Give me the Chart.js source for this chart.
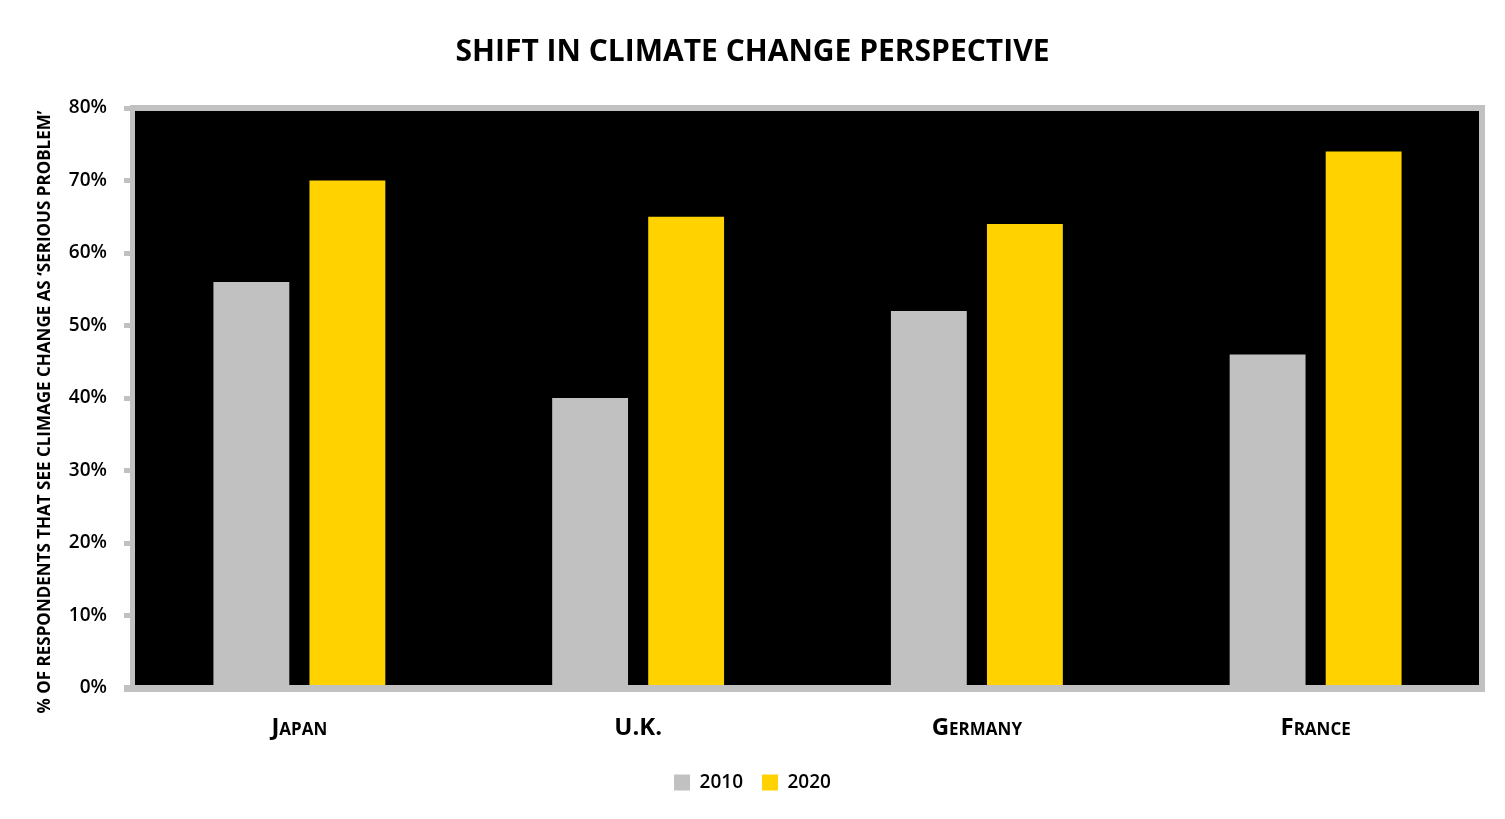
<!DOCTYPE html>
<html>
<head>
<meta charset="utf-8">
<script src="https://cdn.jsdelivr.net/npm/chart.js@4"></script>
<style>
  html, body { margin: 0; padding: 0; background: #fff; }
  #wrap { width: 1505px; height: 819px; }
</style>
</head>
<body>
<div id="wrap"><canvas id="climateChart"></canvas></div>
<script>
// data
const countries = ['Japan', 'U.K.', 'Germany', 'France'];
const values2010 = [56, 40, 52, 46];
const values2020 = [70, 65, 64, 74];
const yTicks = [0, 10, 20, 30, 40, 50, 60, 70, 80];

const GRAY = '#c1c1c1';
const YELLOW = '#ffd200';
const FONT = "'Open Sans', sans-serif";

// black plot area with a gray frame, like the original
const framePlugin = {
    id: 'frame',
    beforeDatasetsDraw(chart) {
        const { ctx, chartArea: a } = chart;
        ctx.save();
        ctx.fillStyle = GRAY;
        ctx.fillRect(a.left, a.top - 3, a.right - a.left, a.bottom - a.top + 7);
        ctx.fillStyle = '#000';
        ctx.fillRect(a.left + 5, a.top + 3, a.right - a.left - 11, a.bottom - a.top - 6);
        ctx.restore();
    },
    afterDatasetsDraw(chart) {
        const { ctx, chartArea: a } = chart;
        ctx.save();
        ctx.fillStyle = GRAY;
        ctx.fillRect(a.left - 6, a.bottom - 3, a.right - a.left + 6, 7);
        ctx.restore();
    },
    afterDraw(chart) {
        // rotated y axis title
        const { ctx } = chart;
        ctx.save();
        ctx.translate(45, 412);
        ctx.rotate(-Math.PI / 2);
        ctx.fillStyle = '#000';
        ctx.font = "bold 17px " + FONT;
        ctx.textAlign = 'center';
        ctx.textBaseline = 'middle';
        ctx.fillText("% OF RESPONDENTS THAT SEE CLIMAGE CHANGE AS \u2018SERIOUS PROBLEM\u2019", 0, 0);
        ctx.restore();
    }
};

document.addEventListener("DOMContentLoaded", function() {
    const ctx = document.getElementById('climateChart').getContext('2d');
    new Chart(ctx, {
        type: 'bar',
        data: {
            labels: countries,
            datasets: [
                { label: '2010', data: values2010, backgroundColor: GRAY },
                { label: '2020', data: values2020, backgroundColor: YELLOW }
            ]
        },
        options: {
            responsive: true,
            maintainAspectRatio: false,
            animation: false,
            categoryPercentage: 0.567,
            barPercentage: 0.79,
            layout: { padding: { left: 0, right: 0, top: 0, bottom: 17 } },
            scales: {
                x: {
                    grid: { display: false },
                    border: { display: false },
                    afterFit(scale) { scale.height = 66; },
                    ticks: {
                        padding: 18,
                        color: '#000',
                        font: { family: FONT, size: 24, weight: 'small-caps bold' }
                    }
                },
                y: {
                    min: 0,
                    max: 80,
                    afterBuildTicks(scale) {
                        scale.ticks = yTicks.map(v => ({ value: v }));
                    },
                    afterFit(scale) { scale.width = 130; },
                    grid: {
                        drawOnChartArea: false,
                        drawTicks: true,
                        tickLength: 6,
                        lineWidth: 5,
                        color: GRAY
                    },
                    border: { display: false },
                    ticks: {
                        padding: 17,
                        color: '#000',
                        font: { family: FONT, size: 19, weight: '600' },
                        callback: v => v + '%'
                    }
                },
                // empty axis only to keep a right margin
                yRight: {
                    position: 'right',
                    grid: { display: false },
                    border: { display: false },
                    ticks: { display: false },
                    afterFit(scale) { scale.width = 20; }
                }
            },
            plugins: {
                title: {
                    display: true,
                    text: 'SHIFT IN CLIMATE CHANGE PERSPECTIVE',
                    color: '#000',
                    font: { family: FONT, size: 30, weight: 'bold' },
                    padding: { top: 34, bottom: 38 }
                },
                legend: {
                    position: 'bottom',
                    labels: {
                        boxWidth: 16,
                        boxHeight: 16,
                        padding: 19,
                        color: '#000',
                        font: { family: FONT, size: 19, weight: '600' }
                    }
                },
                tooltip: { enabled: false }
            }
        },
        plugins: [framePlugin]
    });
});
</script>
</body>
</html>
